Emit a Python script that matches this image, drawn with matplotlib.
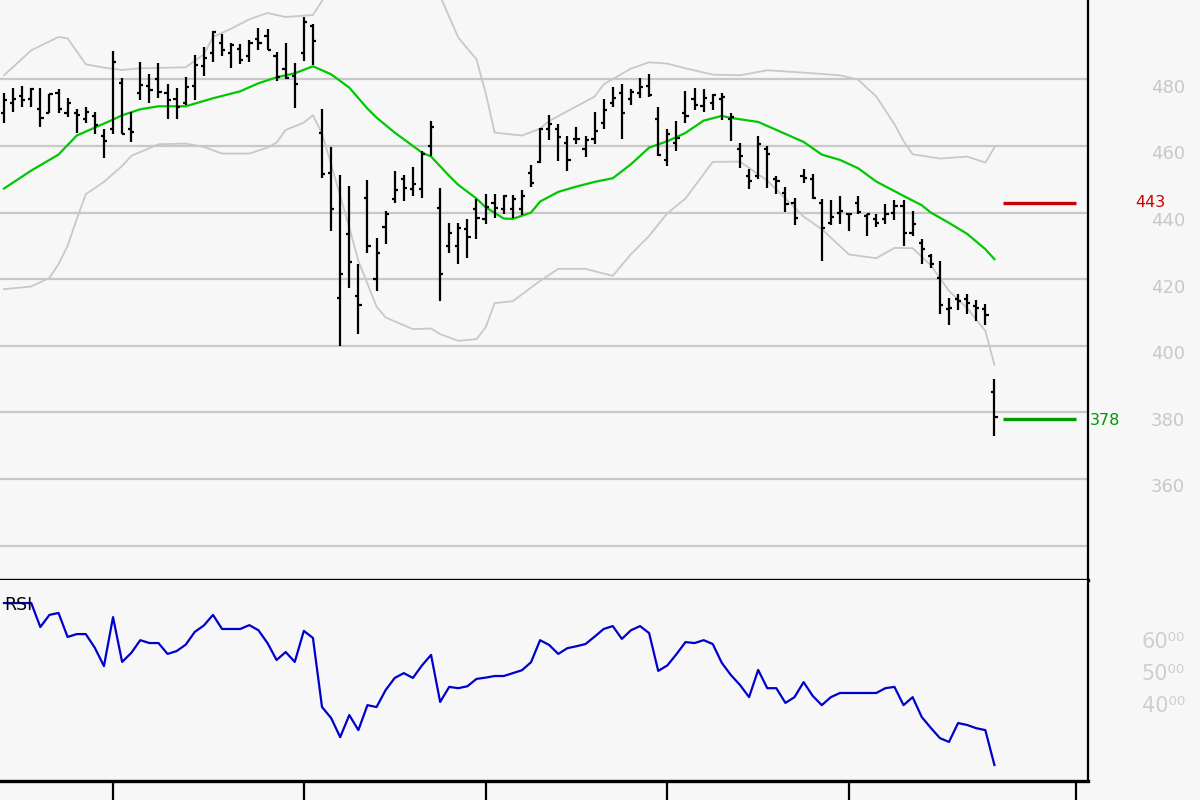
"""Daily bar chart with 20-day average, Bollinger bands and RSI panel."""
import matplotlib

matplotlib.use("Agg")
import matplotlib.pyplot as plt

BG = "#f7f7f7"

# --- price bars (one per trading day) ---
opens = [470, 473, 475, 474, 471, 470, 476, 470, 470, 468,
         469, 463, 465, 479, 465, 476, 478, 480, 476, 474,
         473, 478, 484, 488, 491, 488, 489, 487, 492, 493,
         487, 483, 481, 488, 496, 464, 452.0, 414.3, 433.6, 415,
         444.5, 420, 435.7, 444, 450, 447, 447, 460, 441.5, 430,
         430, 435, 441.1, 438, 443, 441, 441, 441, 452, 455.3,
         465, 465, 461, 462, 459, 462, 467, 473, 476, 474,
         476, 478, 468, 455.9, 461, 470, 474, 472, 473, 474,
         468, 459, 451, 451.1, 459, 450, 446, 443, 451, 450,
         443, 437, 440, 439.5, 443, 439, 438, 438, 440, 442,
         434, 431, 427, 420.4, 411, 414, 414, 412, 411, 386]
highs = [475.8, 477.3, 477.9, 477.3, 477.3, 475.5, 477.0, 474.3, 471.0, 471.6,
         470.1, 465.2, 488.4, 480.3, 470.1, 485.1, 481.5, 484.8, 478.5, 477.3,
         480.6, 487.2, 489.6, 494.5, 493.6, 490.8, 490.5, 491.7, 495.4, 495.1,
         488.1, 490.8, 484.8, 498.7, 496.6, 471.0, 459.8, 451.4, 448.1, 424.6,
         449.9, 432.4, 440.6, 452.6, 451.4, 453.8, 458.6, 467.4, 447.5, 436.9,
         436.9, 438.1, 444.2, 445.7, 445.7, 445.4, 445.4, 446.9, 454.4, 465.5,
         469.2, 466.5, 463.1, 465.8, 463.1, 470.1, 474.0, 477.6, 478.5, 477.0,
         480.3, 481.5, 471.6, 465.2, 467.4, 476.4, 477.3, 477.0, 475.5, 475.8,
         469.8, 461.0, 453.2, 463.1, 460.1, 451.1, 447.8, 444.5, 453.2, 451.7,
         444.2, 443.9, 445.1, 439.6, 445.1, 439.6, 439.6, 442.7, 443.9, 443.9,
         440.6, 432.1, 427.6, 425.5, 414.3, 415.5, 415.5, 413.7, 412.5, 390.0]
lows = [466.8, 470.1, 471.6, 471.6, 465.8, 469.8, 469.8, 468.6, 464.0, 466.8,
        463.7, 456.5, 463.7, 463.7, 461.3, 473.7, 472.8, 474.3, 468.0, 468.0,
        472.2, 473.7, 480.9, 485.1, 486.9, 483.3, 484.5, 485.1, 488.7, 488.7,
        479.4, 480.0, 471.3, 485.4, 484.2, 450.5, 434.5, 399.9, 417.4, 403.5,
        427.9, 416.5, 430.6, 442.9, 443.6, 445.1, 444.5, 457.1, 413.4, 427.9,
        424.6, 426.4, 432.1, 436.6, 438.4, 439.6, 438.4, 439.3, 447.8, 455.0,
        461.9, 455.6, 452.6, 460.7, 456.8, 460.7, 465.0, 471.6, 462.2, 472.2,
        474.3, 474.6, 457.1, 454.1, 458.6, 466.8, 470.7, 470.1, 470.7, 467.7,
        461.6, 453.5, 447.2, 450.2, 447.5, 445.7, 440.2, 436.3, 449.0, 444.2,
        425.5, 436.3, 436.6, 434.5, 439.6, 432.9, 435.7, 436.6, 437.8, 430.0,
        433.0, 424.6, 423.4, 409.5, 406.2, 410.7, 409.5, 407.4, 406.2, 372.8]
closes = [473.7, 474.0, 473.7, 477.0, 468.3, 475.5, 471.0, 472.8, 469.2, 470.1,
          466.2, 461.6, 485.1, 463.7, 464.3, 478.2, 476.7, 476.1, 473.7, 471.6,
          477.6, 484.2, 486.3, 494.2, 488.7, 490.2, 485.7, 490.8, 490.8, 488.7,
          480.6, 480.3, 478.5, 497.2, 491.4, 451.7, 441.2, 421.6, 425.2, 412.2,
          430.0, 427.9, 439.6, 446.9, 447.5, 448.7, 457.7, 465.8, 421.6, 433.9,
          435.4, 432.7, 438.4, 441.8, 441.5, 445.1, 444.2, 445.1, 449.0, 465.2,
          466.5, 462.8, 455.9, 462.2, 461.9, 464.6, 470.7, 474.3, 469.8, 476.1,
          477.6, 475.2, 457.4, 463.7, 462.5, 468.9, 472.2, 474.3, 475.2, 474.6,
          468.6, 457.1, 449.6, 460.7, 457.7, 449.6, 442.7, 438.4, 450.5, 444.5,
          435.4, 438.7, 440.6, 439.6, 440.2, 439.6, 436.9, 439.6, 442.0, 433.9,
          436.6, 429.1, 424.6, 412.2, 411.3, 413.4, 412.8, 411.3, 409.3, 378.5]

# --- 20-day average and Bollinger bands, read at sample days ---
sma_days = [0, 3, 6, 8, 10, 12, 13, 15, 17, 20, 23, 26, 28, 30, 32, 34, 36, 38,
            40, 41, 43, 46, 47, 49, 50, 52, 53, 55, 56, 58, 59, 61, 63, 65, 67,
            69, 71, 73, 75, 77, 79, 80, 83, 86, 88, 90, 92, 94, 96, 99, 101,
            102, 104, 106, 108, 109]
sma_vals = [447.2, 452.6, 457.4, 463.1, 465.5, 467.9, 469.2, 471.0, 471.9,
            471.9, 474.3, 476.4, 478.8, 480.6, 481.8, 483.9, 481.5, 477.5,
            471.2, 468.5, 464.0, 458.0, 456.8, 451.0, 448.3, 444.2, 441.6,
            438.2, 438.1, 440.0, 443.3, 446.2, 447.8, 449.2, 450.3, 454.5,
            459.5, 461.4, 463.9, 467.6, 469.0, 468.4, 467.2, 463.6, 461.2,
            457.4, 455.8, 453.3, 449.3, 445.0, 442.2, 440.0, 436.9, 433.6,
            429.0, 426.0]
upper_days = [0, 3, 6, 7, 9, 11, 13, 15, 20, 22, 23, 25, 27, 29, 31, 34, 35,
              36, 38, 40, 42, 44, 46, 48, 50, 52, 53, 54, 57, 59, 60, 65, 66,
              69, 71, 73, 75, 78, 81, 84, 88, 92, 94, 96, 98, 99, 100, 103,
              106, 108, 109]
upper_vals = [481.2, 488.7, 492.7, 492.3, 484.5, 483.5, 482.8, 483.3, 483.6,
              487.5, 492.7, 495.2, 498.0, 499.9, 498.7, 499.3, 503.5, 508.0,
              515.0, 519.0, 520.0, 518.0, 513.0, 505.0, 492.5, 486.0, 476.0,
              464.0, 463.1, 465.2, 467.5, 474.8, 478.5, 483.2, 485.1, 484.7,
              483.3, 481.4, 481.2, 482.7, 482.0, 481.2, 479.9, 474.8, 466.5,
              461.5, 457.5, 456.2, 456.8, 455.0, 459.5]
lower_days = [0, 3, 5, 6, 7, 8, 9, 11, 13, 14, 17, 20, 22, 24, 27, 29, 30, 31,
              33, 34, 35, 36, 38, 39, 41, 42, 45, 47, 48, 50, 52, 53, 54, 56,
              59, 61, 64, 67, 69, 71, 73, 75, 78, 81, 84, 88, 90, 93, 96, 98,
              100, 102, 104, 106, 108, 109]
lower_vals = [417.0, 417.8, 420.4, 424.5, 430.0, 438.0, 445.5, 449.2, 454.0,
              457.0, 460.5, 460.7, 459.7, 457.7, 457.7, 459.5, 461.0, 464.8,
              467.0, 469.2, 463.7, 454.5, 435.5, 425.5, 411.8, 408.5, 405.0,
              405.2, 403.5, 401.5, 402.0, 405.5, 412.8, 413.4, 419.5, 423.1,
              423.1, 421.0, 427.5, 433.0, 439.8, 444.2, 455.2, 455.3, 449.6,
              438.8, 435.0, 427.4, 426.3, 429.4, 429.3, 424.2, 416.5, 411.3,
              404.5, 394.3]

# --- RSI, one value per day ---
rsi = [72.5, 72.5, 72.5, 72.5, 65.0, 68.8, 69.4, 61.9, 62.8, 62.8,
       58.5, 52.8, 68.1, 54.1, 56.9, 60.9, 60.0, 60.0, 56.6, 57.5,
       59.5, 63.5, 65.5, 68.8, 64.4, 64.4, 64.4, 65.6, 64.0, 60.0,
       54.7, 57.2, 54.1, 63.8, 61.6, 40.0, 36.6, 30.6, 37.5, 32.8,
       40.6, 40.0, 45.3, 49.1, 50.6, 49.1, 53.0, 56.3, 41.6, 46.3,
       45.9, 46.5, 48.8, 49.2, 49.7, 49.7, 50.6, 51.5, 54.0, 60.9,
       59.4, 56.6, 58.4, 59.0, 59.7, 62.0, 64.4, 65.3, 61.3, 64.0,
       65.3, 63.1, 51.3, 53.0, 56.5, 60.3, 60.0, 60.9, 59.7, 53.8,
       50.0, 46.9, 43.1, 51.6, 45.9, 45.9, 41.3, 43.1, 47.8, 43.5,
       40.6, 43.1, 44.4, 44.4, 44.4, 44.4, 44.4, 45.9, 46.3, 40.6,
       43.1, 36.9, 33.5, 30.3, 29.1, 35.0, 34.4, 33.4, 32.8, 21.9]

price_grid = [340, 360, 380, 400, 420, 440, 460, 480]
price_labels = [360, 380, 400, 420, 440, 460, 480]
rsi_labels = [60, 50, 40]
month_ticks = [12, 33, 53, 73, 93, 118]
resistance = 443
support = 378
level_span = (110, 118)

days = list(range(len(closes)))

fig = plt.figure(figsize=(12, 8), dpi=100, facecolor=BG)
ax = fig.add_axes([0, 0.275, 1088 / 1200, 0.725], facecolor=BG)
ax2 = fig.add_axes([0, 0.02375, 1088 / 1200, 0.25125], facecolor=BG, sharex=ax)

# price panel
for g in price_grid:
    ax.axhline(g, color="#c8c8c8", lw=1.6, zorder=0)
ax.plot(upper_days, upper_vals, color="#c8c8c8", lw=1.3, zorder=1)
ax.plot(lower_days, lower_vals, color="#c8c8c8", lw=1.3, zorder=1)
ax.plot(sma_days, sma_vals, color="#00c800", lw=1.6, zorder=2)
ax.vlines(days, lows, highs, color="black", lw=1.6, zorder=3)
ax.hlines(opens, [d - 0.35 for d in days], days, color="black", lw=1.6, zorder=3)
ax.hlines(closes, days, [d + 0.35 for d in days], color="black", lw=1.6, zorder=3)

ax.hlines(resistance, *level_span, color="#cc0000", lw=2.4, zorder=3)
ax.hlines(support, *level_span, color="#009900", lw=2.4, zorder=3)

ax.set_xlim(-0.44, 119.3)
ax.set_ylim(329.7, 503.8)
ytr = ax.get_yaxis_transform()
for v in price_labels:
    ax.annotate(str(v), (1185 / 1088, v), xycoords=ytr, xytext=(0, -6),
                textcoords="offset points", ha="right", va="center",
                fontsize=13, color="#c8c8c8", annotation_clip=False)
ax.annotate(str(resistance), (1165 / 1088, resistance), xycoords=ytr,
            ha="right", va="center", fontsize=11.5, color="#cc0000",
            annotation_clip=False)
ax.annotate(str(support), (1090 / 1088, support), xycoords=ytr,
            xytext=(0, -1), textcoords="offset points",
            ha="left", va="center", fontsize=11.5, color="#009900",
            annotation_clip=False)

for s in ("left", "top"):
    ax.spines[s].set_visible(False)
ax.spines["right"].set_linewidth(1.6)
ax.spines["bottom"].set_linewidth(2.4)
ax.tick_params(left=False, bottom=False, labelleft=False, labelbottom=False)

# RSI panel
ax2.plot(days, rsi, color="#0000cc", lw=1.6)
ax2.set_ylim(16.9, 79.7)
ax2.text(0.004, 0.875, "RSI", transform=ax2.transAxes, fontsize=12.5,
         color="black", ha="left", va="center")
ytr2 = ax2.get_yaxis_transform()
for v in rsi_labels:
    ax2.annotate(f"{v}\u2070\u2070", (1185 / 1088, v), xycoords=ytr2,
                 xytext=(0, 1), textcoords="offset points",
                 ha="right", va="center", fontsize=15, color="#cfcfcf",
                 annotation_clip=False)
for s in ("left", "top"):
    ax2.spines[s].set_visible(False)
ax2.spines["right"].set_linewidth(1.6)
ax2.spines["bottom"].set_linewidth(2.4)
ax2.set_xticks(month_ticks)
ax2.tick_params(axis="x", direction="out", length=14, width=1.6,
                labelbottom=False)
ax2.tick_params(axis="y", left=False, labelleft=False)

fig.savefig("out.png", dpi=100, facecolor=BG)
